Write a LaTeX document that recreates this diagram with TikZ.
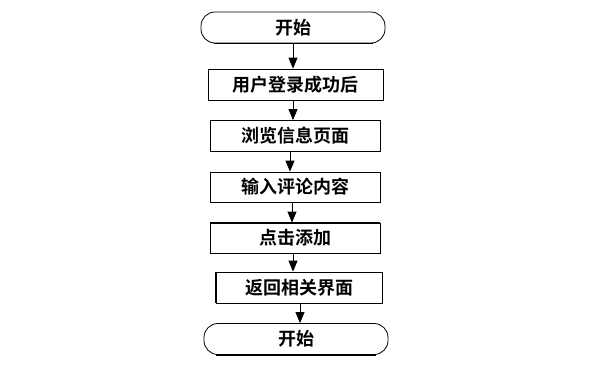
\documentclass[tikz,border=0pt]{standalone}
\usepackage{fontspec}
\newfontfamily\cjk[BoldFont={Noto Sans CJK SC Bold}]{Noto Sans CJK SC}
\usetikzlibrary{arrows.meta}
\begin{document}
\begin{tikzpicture}[x=1pt,y=-1pt,
  every node/.style={font=\cjk\bfseries\fontsize{18}{20}\selectfont, inner sep=0pt},
  procbox/.style={draw, line width=0.8pt, fill=white, minimum height=31pt},
  termbox/.style={draw, line width=0.8pt, fill=white, rounded corners=14pt, minimum height=31pt},
  flow/.style={line width=0.8pt, -{Triangle[width=9pt,length=11pt]}}]
\useasboundingbox (0,0) rectangle (606,368);
\node[termbox, minimum width=184pt] (t1) at (293,27.5) {开始};
\node[procbox, minimum width=175pt] (b1) at (295.5,84.5) {用户登录成功后};
\node[procbox, minimum width=170pt] (b2) at (295,136) {浏览信息页面};
\node[procbox, minimum width=170pt, minimum height=30pt] (b3) at (295,187) {输入评论内容};
\node[procbox, minimum width=170pt, minimum height=30pt] (b4) at (295,238) {点击添加};
\node[procbox, minimum width=166pt] (b5) at (299,287.5) {返回相关界面};
\node[termbox, minimum width=184pt] (t2) at (296,339) {开始};
% shadow accents
\draw[line width=1.2pt] ([xshift=1pt]b1.south west) -- ([yshift=0pt]b1.south east) -- (b1.north east);
\draw[line width=1.2pt] ([xshift=1pt]t1.south west) ++(12,0) -- ([xshift=-12pt]t1.south east);
\draw[line width=1.6pt] (b4.north west) -- (b4.north east);
\draw[line width=1.6pt] (b5.north west) -- (b5.south west);
\draw[line width=1.2pt] ([xshift=12pt]t2.south west) -- ([xshift=-12pt]t2.south east);
% connectors
\draw[flow] (t1.south -| 293,0) -- (b1.north -| 293,0);
\draw[flow] (b1.south -| 293,0) -- (b2.north -| 293,0);
\draw[flow] (b2.south -| 290,0) -- (b3.north -| 290,0);
\draw[flow] (b3.south -| 292,0) -- (b4.north -| 292,0);
\draw[flow] (b4.south -| 293,0) -- (b5.north -| 293,0);
\draw[flow] (b5.south -| 300,0) -- (t2.north -| 300,0);
\end{tikzpicture}
\end{document}
